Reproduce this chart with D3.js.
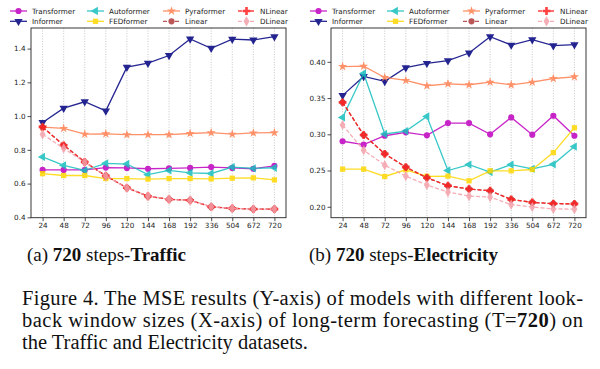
<!DOCTYPE html>
<html><head><meta charset="utf-8">
<script src="https://cdn.jsdelivr.net/npm/d3@7"></script>
<style>body{margin:0;background:#fff}svg{display:block}</style>
</head><body>
<svg id="c" width="600" height="369"></svg>
<script>
const xLabels = ["24","48","72","96","120","144","168","192","336","504","672","720"];
const models = ["Transformer","Informer","Autoformer","FEDformer","Pyraformer","Linear","NLinear","DLinear"];

// Traffic (T=720)
const trafficTransformer = [0.681,0.681,0.681,0.695,0.693,0.688,0.690,0.693,0.698,0.693,0.688,0.705];
const trafficInformer    = [0.962,1.047,1.085,1.031,1.290,1.314,1.359,1.457,1.402,1.456,1.451,1.471];
const trafficAutoformer  = [0.758,0.708,0.678,0.720,0.716,0.653,0.678,0.664,0.660,0.698,0.690,0.694];
const trafficFEDformer   = [0.659,0.648,0.648,0.630,0.630,0.627,0.630,0.630,0.628,0.632,0.634,0.622];
const trafficPyraformer  = [0.935,0.927,0.893,0.895,0.890,0.890,0.890,0.897,0.902,0.893,0.900,0.902];
const trafficLinear      = [0.935,0.827,0.728,0.646,0.575,0.525,0.507,0.501,0.462,0.453,0.449,0.449];
const trafficNLinear     = [0.935,0.827,0.728,0.646,0.575,0.525,0.507,0.501,0.462,0.453,0.449,0.449];
const trafficDLinear     = [0.892,0.809,0.726,0.644,0.575,0.526,0.507,0.501,0.463,0.453,0.449,0.449];

// Electricity (T=720)
const elecTransformer = [0.2904,0.2857,0.2980,0.3027,0.2986,0.3155,0.3155,0.3000,0.3233,0.2995,0.3256,0.2980];
const elecInformer    = [0.3537,0.3798,0.3730,0.3920,0.3980,0.4016,0.4122,0.4348,0.4232,0.4305,0.4224,0.4238];
const elecAutoformer  = [0.3233,0.3839,0.3004,0.3045,0.3247,0.2500,0.2582,0.2478,0.2582,0.2523,0.2586,0.2830];
const elecFEDformer   = [0.2519,0.2519,0.2418,0.2510,0.2420,0.2423,0.2358,0.2496,0.2496,0.2514,0.2748,0.3090];
const elecPyraformer  = [0.3935,0.3940,0.3784,0.3743,0.3670,0.3697,0.3684,0.3720,0.3683,0.3720,0.3770,0.3793];
const elecLinear      = [0.3441,0.2990,0.2730,0.2547,0.2400,0.2290,0.2245,0.2221,0.2102,0.2060,0.2043,0.2040];
const elecNLinear     = [0.3441,0.2990,0.2730,0.2547,0.2400,0.2290,0.2245,0.2221,0.2102,0.2060,0.2043,0.2040];
const elecDLinear     = [0.3128,0.2780,0.2574,0.2423,0.2300,0.2203,0.2148,0.2134,0.2029,0.1997,0.1970,0.1968];

const trafficTicks = [0.4,0.6,0.8,1.0,1.2,1.4];
const elecTicks = [0.20,0.25,0.30,0.35,0.40];

const styles = {
  Transformer:{color:"#bf00bf", sym:d3.symbolCircle, size:30, rot:0, dash:null},
  Informer:{color:"#000080", sym:d3.symbolTriangle, size:30, rot:180, dash:null},
  Autoformer:{color:"#17bfbf", sym:d3.symbolTriangle, size:30, rot:-90, dash:null},
  FEDformer:{color:"#ffd700", sym:d3.symbolSquare, size:28, rot:0, dash:null},
  Pyraformer:{color:"#ff7f50", sym:d3.symbolStar, size:26, rot:0, dash:null},
  Linear:{color:"#b03a3a", sym:d3.symbolCircle, size:30, rot:0, dash:"4,2"},
  NLinear:{color:"#ff2020", sym:d3.symbolCross, size:34, rot:0, dash:"4,2"},
  DLinear:{color:"#f4a0aa", sym:d3.symbolDiamond, size:30, rot:0, dash:"4,2"}
};

const panels = [
  {x0:31, x1:286, ticks:trafficTicks, fmt:d3.format(".1f"),
   series:{Transformer:trafficTransformer,Informer:trafficInformer,Autoformer:trafficAutoformer,FEDformer:trafficFEDformer,Pyraformer:trafficPyraformer,Linear:trafficLinear,NLinear:trafficNLinear,DLinear:trafficDLinear},
   legendX:0},
  {x0:331, x1:586, ticks:elecTicks, fmt:d3.format(".2f"),
   series:{Transformer:elecTransformer,Informer:elecInformer,Autoformer:elecAutoformer,FEDformer:elecFEDformer,Pyraformer:elecPyraformer,Linear:elecLinear,NLinear:elecNLinear,DLinear:elecDLinear},
   legendX:300}
];

const svg = d3.select("#c");
const plotTop = 28, plotBottom = 217.7;

panels.forEach(p => {
  const all = models.flatMap(m => p.series[m]);
  const [mn, mx] = d3.extent(all);
  const pad = (mx - mn) * 0.05;
  const x = d3.scalePoint().domain(xLabels).range([p.x0, p.x1]).padding(0.55);
  const y = d3.scaleLinear().domain([mn - pad, mx + pad]).range([plotBottom, plotTop]);
  const g = svg.append("g");

  // grid
  g.selectAll("line.grid").data(xLabels).enter().append("line")
    .attr("x1", d => x(d)).attr("x2", d => x(d)).attr("y1", plotTop).attr("y2", plotBottom)
    .attr("stroke", "#b8b8b8").attr("stroke-width", 0.8).attr("stroke-dasharray", "1,1.6");

  // axes
  const xa = g.append("g").attr("transform", `translate(0,${plotBottom})`)
    .call(d3.axisBottom(x).tickSize(3.5).tickPadding(2));
  const ya = g.append("g").attr("transform", `translate(${p.x0},0)`)
    .call(d3.axisLeft(y).tickValues(p.ticks).tickFormat(p.fmt).tickSize(3.5).tickPadding(2));
  [xa, ya].forEach(a => {
    a.select(".domain").remove();
    a.selectAll("text").attr("font-family", "DejaVu Sans").attr("font-size", 7.2).attr("fill", "#222");
    a.selectAll("line").attr("stroke", "#222").attr("stroke-width", 0.8);
  });

  // lines
  const line = d3.line().x((d,i) => x(xLabels[i])).y(d => y(d));
  models.forEach(m => {
    const s = styles[m], vals = p.series[m];
    const sg = g.append("g").attr("opacity", 0.85);
    sg.append("path").attr("d", line(vals)).attr("fill", "none")
      .attr("stroke", s.color).attr("stroke-width", 1.3)
      .attr("stroke-dasharray", s.dash);
    sg.selectAll("path.m").data(vals).enter().append("path")
      .attr("d", d3.symbol(s.sym, s.size)())
      .attr("transform", (d,i) => `translate(${x(xLabels[i])},${y(d)}) rotate(${s.rot})`)
      .attr("fill", s.color);
  });

  // frame
  g.append("rect").attr("x", p.x0).attr("y", plotTop).attr("width", p.x1 - p.x0).attr("height", plotBottom - plotTop)
    .attr("fill", "none").attr("stroke", "#222").attr("stroke-width", 0.9);

  // legend
  const cols = [10, 87, 163, 238];
  const rows = [11, 21.3];
  models.forEach((m, i) => {
    const s = styles[m];
    const cx = p.legendX + cols[Math.floor(i/2)], cy = rows[i%2];
    const lg = g.append("g").attr("opacity", 0.85);
    lg.append("line").attr("x1", cx).attr("x2", cx + 17).attr("y1", cy).attr("y2", cy)
      .attr("stroke", s.color).attr("stroke-width", 1.3).attr("stroke-dasharray", s.dash);
    lg.append("path").attr("d", d3.symbol(s.sym, s.size)())
      .attr("transform", `translate(${cx+8.5},${cy}) rotate(${s.rot})`).attr("fill", s.color);
    g.append("text").attr("x", cx + 22).attr("y", cy).attr("dy", "0.35em")
      .attr("font-family", "DejaVu Sans").attr("font-size", 7.2).attr("fill", "#222").text(m);
  });
});

// captions
const cap = [
  {x:27, parts:[["(a) ","normal"],["720","bold"],[" steps-","normal"],["Traffic","bold"]]},
  {x:309, parts:[["(b) ","normal"],["720","bold"],[" steps-","normal"],["Electricity","bold"]]}
];
cap.forEach(c => {
  const t = svg.append("text").attr("x", c.x).attr("y", 261)
    .attr("font-family", "Liberation Serif").attr("font-size", 19).attr("fill", "#111");
  c.parts.forEach(pt => t.append("tspan").attr("font-weight", pt[1]).text(pt[0]));
});

const para = [
  {y:304.5, just:true, parts:[["Figure 4. The MSE results (Y-axis) of models with different look-","normal"]]},
  {y:326.5, just:true, parts:[["back window sizes (X-axis) of long-term forecasting (T=","normal"],["720","bold"],[") on","normal"]]},
  {y:348.5, just:false, parts:[["the Traffic and Electricity datasets.","normal"]]}
];
para.forEach(l => {
  const t = svg.append("text").attr("x", 22).attr("y", l.y)
    .attr("font-family", "Liberation Serif").attr("font-size", 20.5).attr("fill", "#111");
  if (l.just) t.attr("textLength", 561).attr("lengthAdjust", "spacing");
  l.parts.forEach(pt => t.append("tspan").attr("font-weight", pt[1]).text(pt[0]));
});
</script>
</body></html>
